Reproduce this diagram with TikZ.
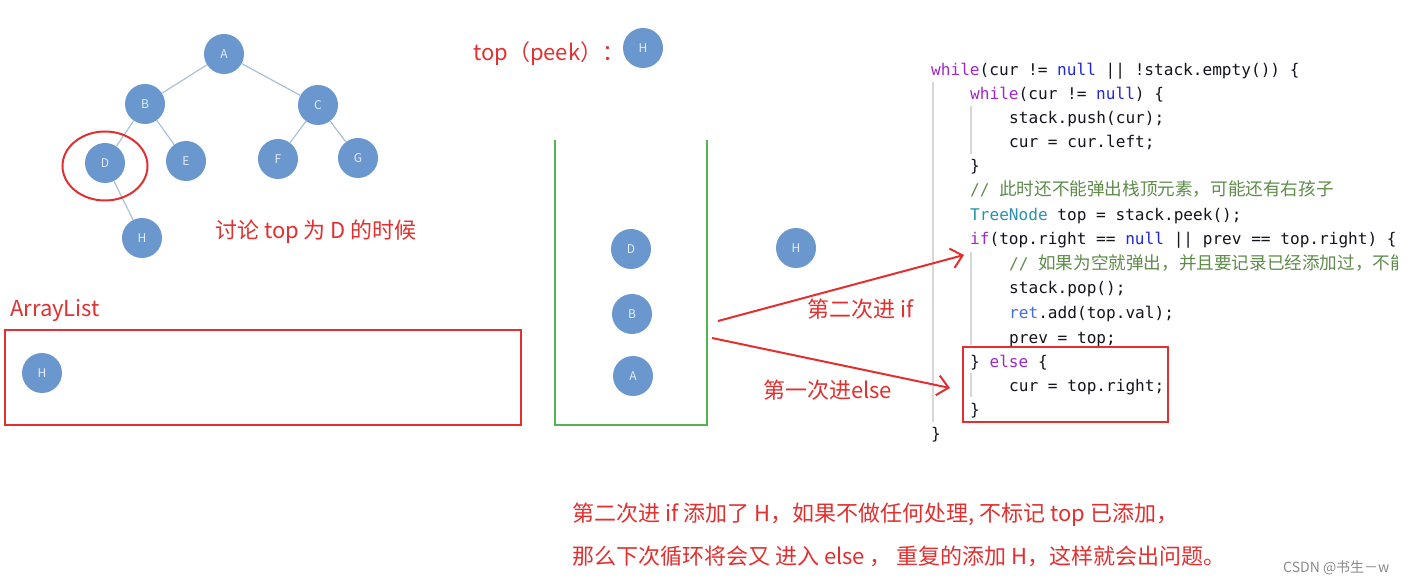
\documentclass[tikz,border=0pt]{standalone}
\usepackage{fontspec}
\setmainfont{Noto Sans CJK SC}
\newfontfamily\codefont{DejaVu Sans Mono}
\newfontfamily\cjk{Noto Sans CJK SC}
\usetikzlibrary{arrows.meta, positioning, shapes.geometric}

\definecolor{nodeblue}{RGB}{106,152,206}
\definecolor{edgeblue}{RGB}{170,192,216}
\definecolor{notered}{RGB}{226,48,48}
\definecolor{stackgreen}{RGB}{84,180,84}
\definecolor{kwpurple}{RGB}{160,40,200}
\definecolor{nullblue}{RGB}{30,40,215}
\definecolor{typeteal}{RGB}{43,145,175}
\definecolor{retblue}{RGB}{70,110,215}
\definecolor{cmtgreen}{RGB}{95,140,75}
\definecolor{guidegray}{RGB}{215,215,215}
\definecolor{codetext}{RGB}{20,20,30}

\newcommand{\kw}[1]{\textcolor{kwpurple}{#1}}
\newcommand{\nul}[1]{\textcolor{nullblue}{#1}}
\newcommand{\cmt}[1]{\textcolor{cmtgreen}{// {\cjk\fontsize{17.6}{20}\selectfont #1}}}

\begin{document}
\begin{tikzpicture}[
    x=1pt, y=-1pt,
    tnode/.style={circle, fill=nodeblue, minimum size=40pt, inner sep=0pt,
                  text=white!82!nodeblue, font=\fontsize{12}{12}\selectfont},
    tedge/.style={edgeblue, line width=1.2pt},
    note/.style={anchor=west, inner sep=0pt, text=notered, font=\fontsize{22}{26}\selectfont},
    code/.style={anchor=base west, inner sep=0pt, text=codetext,
                 font=\codefont\fontsize{16.1}{20}\selectfont},
    redbox/.style={draw=notered, line width=2pt},
    guide/.style={guidegray, line width=1.5pt},
    arr/.style={-{Straight Barb[length=11pt, width=20pt]}, notered, line width=2pt}
]
\useasboundingbox[fill=white] (0,0) rectangle (1416,585);

% binary tree
\node[tnode] (tA) at (224,54)  {A};
\node[tnode] (tB) at (145,104) {B};
\node[tnode] (tC) at (318,105) {C};
\node[tnode] (tD) at (105,163) {D};
\node[tnode] (tE) at (186,161) {E};
\node[tnode] (tF) at (278,159) {F};
\node[tnode] (tG) at (358,158) {G};
\node[tnode] (tH) at (142,238) {H};
\draw[tedge] (tA) -- (tB);
\draw[tedge] (tA) -- (tC);
\draw[tedge] (tB) -- (tD);
\draw[tedge] (tB) -- (tE);
\draw[tedge] (tC) -- (tF);
\draw[tedge] (tC) -- (tG);
\draw[tedge] (tD) -- (tH);
\node[ellipse, draw=notered, line width=2pt, minimum width=85pt, minimum height=69pt] (focus) at (105,166) {};
\node[note] (topis) at (215,232) {讨论 top 为 D 的时候};

% peek
\node[note] (peek) at (473,54) {top（peek）：};
\node[tnode] (pH) at (643,48) {H};

% stack
\draw[stackgreen, line width=2.5pt] (555,140) |- (707,425) -- (707,140);
\node[tnode] (sD) at (631,249) {D};
\node[tnode] (sB) at (632,314) {B};
\node[tnode] (sA) at (633,376) {A};
\node[tnode] (oH) at (796,248) {H};

% result list
\node[note] (listname) at (10,311) {ArrayList};
\draw[redbox] (5,330) rectangle (521,425);
\node[tnode] (lH) at (42,373) {H};

% code
\draw[guide] (933,82) -- (933,422);
\draw[guide] (971,106) -- (971,154);
\draw[guide] (971,252) -- (971,345);
\draw[guide] (971,373) -- (971,397);
\node[code] (c0)  at (931,76)   {\kw{while}(cur != \nul{null} || !stack.empty()) \{};
\node[code] (c1)  at (970,100)  {\kw{while}(cur != \nul{null}) \{};
\node[code] (c2)  at (1009,124) {stack.push(cur);};
\node[code] (c3)  at (1009,148) {cur = cur.left;};
\node[code] (c4)  at (970,172)  {\}};
\node[code] (c5)  at (970,196)  {\cmt{此时还不能弹出栈顶元素，可能还有右孩子}};
\node[code] (c6)  at (970,221)  {\textcolor{typeteal}{TreeNode} top = stack.peek();};
\node[code] (c7)  at (970,245)  {\kw{if}(top.right == \nul{null} || prev == top.right) \{};
\begin{scope}
\clip (900,250) rectangle (1397,280);
\node[code] (c8)  at (1009,270) {\cmt{如果为空就弹出，并且要记录已经添加过，不能}};
\end{scope}
\node[code] (c9)  at (1009,294) {stack.pop();};
\node[code] (c10) at (1009,319) {\textcolor{retblue}{ret}.add(top.val);};
\node[code] (c11) at (1009,343) {prev = top;};
\node[code] (c12) at (970,367)  {\} \kw{else} \{};
\node[code] (c13) at (1009,391) {cur = top.right;};
\node[code] (c14) at (970,415)  {\}};
\node[code] (c15) at (931,439)  {\}};
\draw[redbox] (963,347) rectangle (1168,422);

% branches
\coordinate (ifout)   at (718,321);
\coordinate (ifin)    at (964,255);
\coordinate (elseout) at (712,338);
\coordinate (elsein)  at (950,388);
\draw[arr] (ifout) -- (ifin);
\draw[arr] (elseout) -- (elsein);
\node[note] (second) at (807,309) {第二次进 if};
\node[note] (first)  at (763,390) {第一次进else};

% remark
\node[note] (line1) at (572,515) {第二次进 if 添加了 H，如果不做任何处理, 不标记 top 已添加，};
\node[note] (line2) at (572,556) {那么下次循环将会又 进入 else ， 重复的添加 H，这样就会出问题。};
\node[anchor=west, inner sep=0pt, text=black!45, font=\fontsize{14}{16}\selectfont] (mark) at (1283,568) {CSDN @书生－w};
\end{tikzpicture}
\end{document}
